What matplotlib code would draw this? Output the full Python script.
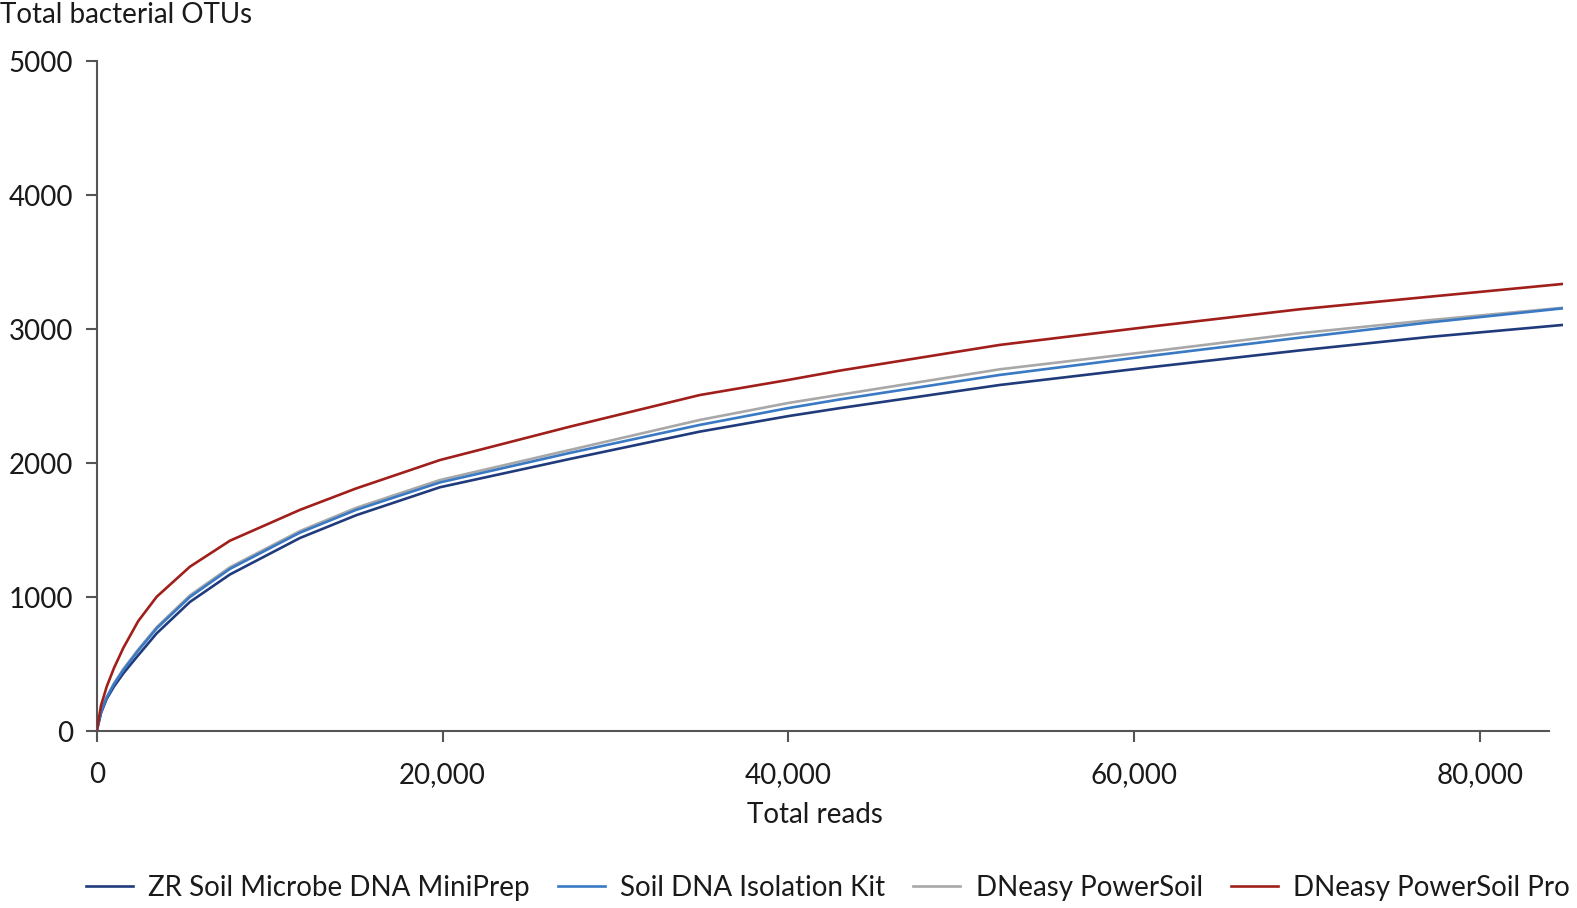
import numpy as np
import matplotlib
matplotlib.use("Agg")
import matplotlib.pyplot as plt

plt.rcParams['font.family'] = ['Lato', 'DejaVu Sans']

reads = [0, 250, 578, 1000, 1540, 2400, 3470, 5390, 7705, 11750, 15000, 19850,
         27360, 34870, 40000, 43000, 52214, 60890, 69560, 77000, 84770]

zr_miniprep = [0, 135, 240, 332, 430, 565, 729, 963, 1168, 1440, 1610, 1819,
               2030, 2234, 2350, 2410, 2582, 2714, 2840, 2940, 3030]
soil_isolation = [0, 140, 250, 350, 455, 600, 766, 1000, 1210, 1480, 1650, 1855,
                  2075, 2284, 2410, 2475, 2657, 2799, 2935, 3048, 3154]
dneasy_powersoil = [0, 142, 253, 355, 462, 608, 775, 1012, 1222, 1492, 1665, 1873,
                    2097, 2321, 2448, 2510, 2699, 2831, 2968, 3065, 3158]
dneasy_pro = [0, 190, 331, 470, 620, 820, 1002, 1226, 1420, 1650, 1810, 2022,
              2271, 2507, 2620, 2690, 2881, 3017, 3147, 3240, 3336]

labels = ['ZR Soil Microbe DNA MiniPrep', 'Soil DNA Isolation Kit',
          'DNeasy PowerSoil', 'DNeasy PowerSoil Pro']
colors = ['#1f3b7c', '#3a79c4', '#a8a8a8', '#a11f1b']
zorders = [3, 4, 2, 5]

fig = plt.figure(figsize=(15.77, 9.08), dpi=100)
ax = fig.add_axes([96.7 / 1577, 1 - 731 / 908, (1563 - 96.7) / 1577, 670 / 908])

for ys, lab, c, z in zip([zr_miniprep, soil_isolation, dneasy_powersoil, dneasy_pro],
                         labels, colors, zorders):
    ax.plot(reads, ys, color=c, lw=1.9, label=lab, zorder=z, solid_joinstyle='round')

ax.set_xlim(0, 84800)
ax.set_ylim(0, 5000)
ax.set_xticks([0, 20000, 40000, 60000, 80000])
ax.set_xticklabels(['0', '20,000', '40,000', '60,000', '80,000'])
ax.set_yticks([0, 1000, 2000, 3000, 4000, 5000])
ax.set_yticklabels(['0', '1000', '2000', '3000', '4000', '5000'])

for s in ['top', 'right']:
    ax.spines[s].set_visible(False)
for s in ['left', 'bottom']:
    ax.spines[s].set_color('#555555')
    ax.spines[s].set_linewidth(1.5)
ax.spines['bottom'].set_bounds(0, 84000)

ax.tick_params(axis='both', colors='#555555', width=1.5, length=8,
               labelsize=20, labelcolor='#1a1a1a')
ax.tick_params(axis='y', pad=9)
ax.tick_params(axis='x', pad=14)

ax.set_xlabel('Total reads', fontsize=20, color='#1a1a1a')
ax.xaxis.label.set_va('top')
ax.xaxis.set_label_coords((815 - 96.7) / (1563 - 96.7), -(802 - 731) / 670)
fig.text(0, 1 - 15 / 908, 'Total bacterial OTUs', fontsize=20, color='#1a1a1a',
         ha='left', va='center')

fig.legend(loc='center', bbox_to_anchor=(0.525, 1 - 888 / 908), ncol=4,
           frameon=False, fontsize=20, handlelength=1.7, handletextpad=0.55,
           columnspacing=1.0, labelcolor='#1a1a1a')

fig.savefig('out.png', dpi=100)
